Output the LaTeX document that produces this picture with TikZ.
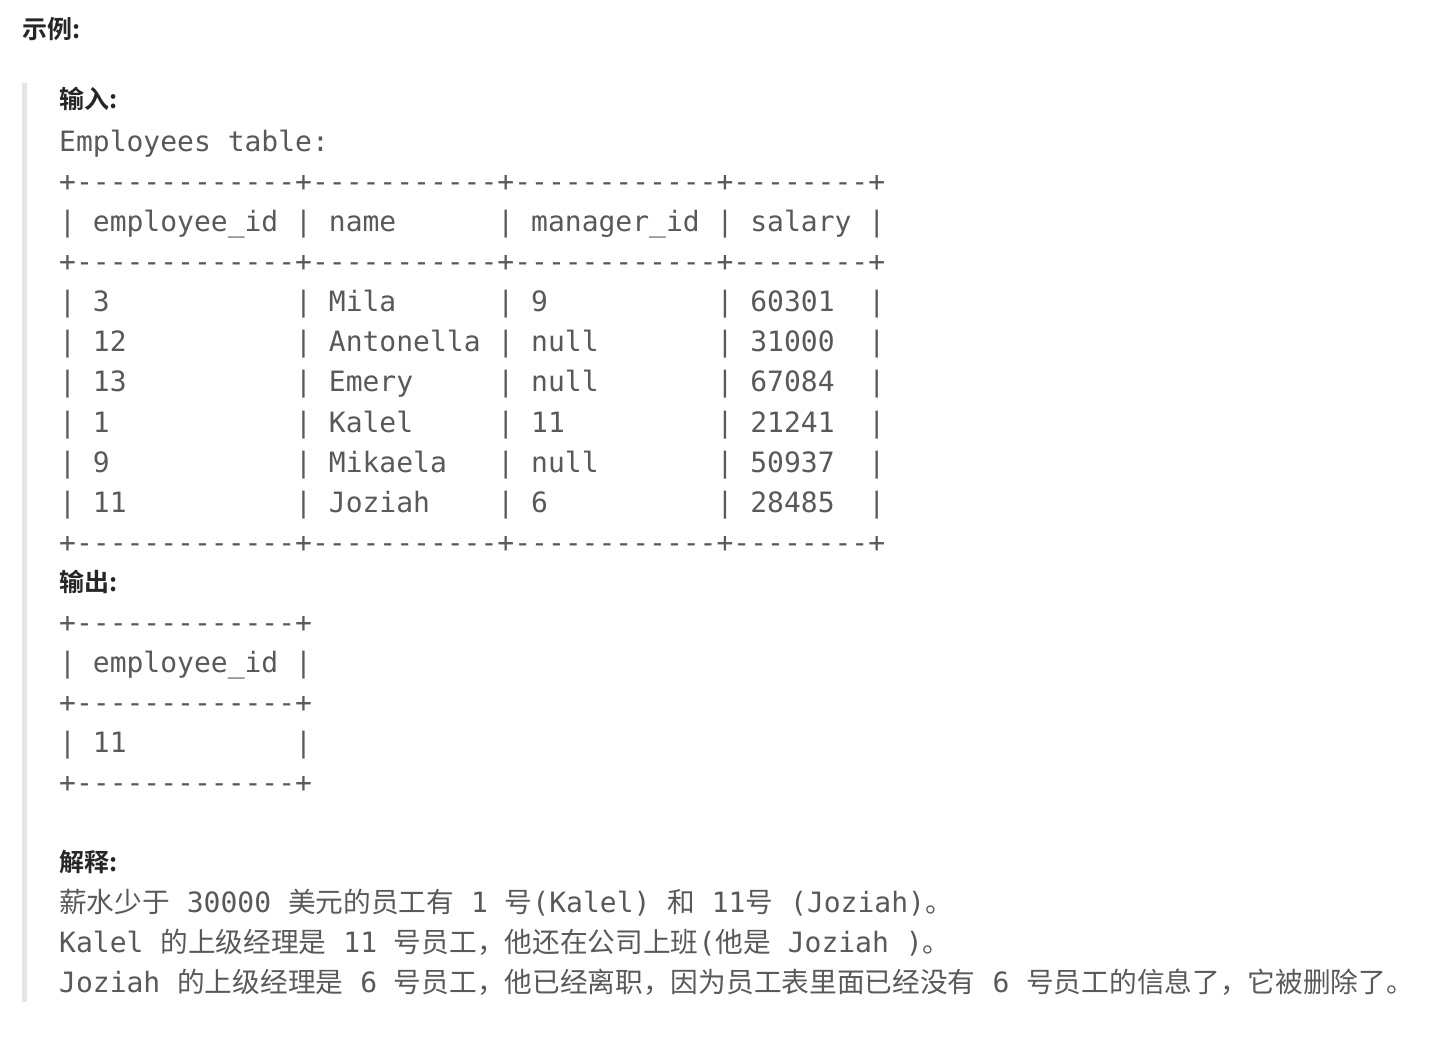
\documentclass[tikz,border=0pt]{standalone}
\usepackage{fontspec}
\setmonofont{DejaVu Sans Mono}
\newfontfamily\cjk[BoldFont=Noto Sans CJK SC Bold]{Noto Sans CJK SC}
\newcommand\Cn[1]{{\cjk\fontsize{27.7}{28}\selectfont #1}}
\definecolor{txt}{HTML}{595959}
\definecolor{hd}{HTML}{262626}
\definecolor{barc}{HTML}{E6E6E6}
\tikzset{
  ln/.style={anchor=base west,inner sep=0pt,text=txt,font=\fontsize{28}{28}\ttfamily},
  hdg/.style={anchor=base west,inner sep=0pt,text=hd,font=\cjk\bfseries\fontsize{25}{25}\selectfont}
}
\begin{document}
\begin{tikzpicture}[x=1pt,y=-1pt]
\useasboundingbox (0,0) rectangle (1454,1040);
\fill[barc] (22,83) rectangle (27,1002);
\node[hdg] (h0) at (22,39) {示例:};
\node[hdg] (h1) at (59,109) {输入:};
\node[ln] (l1) at (59,152) {Employees~table:};
\node[ln] (l2) at (59,192) {+-------------+-----------+------------+--------+};
\node[ln] (l3) at (59,232) {|~employee\_id~|~name~~~~~~|~manager\_id~|~salary~|};
\node[ln] (l4) at (59,272) {+-------------+-----------+------------+--------+};
\node[ln] (l5) at (59,312) {|~3~~~~~~~~~~~|~Mila~~~~~~|~9~~~~~~~~~~|~60301~~|};
\node[ln] (l6) at (59,352) {|~12~~~~~~~~~~|~Antonella~|~null~~~~~~~|~31000~~|};
\node[ln] (l7) at (59,392) {|~13~~~~~~~~~~|~Emery~~~~~|~null~~~~~~~|~67084~~|};
\node[ln] (l8) at (59,432) {|~1~~~~~~~~~~~|~Kalel~~~~~|~11~~~~~~~~~|~21241~~|};
\node[ln] (l9) at (59,472) {|~9~~~~~~~~~~~|~Mikaela~~~|~null~~~~~~~|~50937~~|};
\node[ln] (l10) at (59,512) {|~11~~~~~~~~~~|~Joziah~~~~|~6~~~~~~~~~~|~28485~~|};
\node[ln] (l11) at (59,552) {+-------------+-----------+------------+--------+};
\node[hdg] (h2) at (59,591) {输出:};
\node[ln] (o1) at (59,632) {+-------------+};
\node[ln] (o2) at (59,672) {|~employee\_id~|};
\node[ln] (o3) at (59,712) {+-------------+};
\node[ln] (o4) at (59,752) {|~11~~~~~~~~~~|};
\node[ln] (o5) at (59,792) {+-------------+};
\node[hdg] (h3) at (59,871) {解释:};
\node[ln] (e1) at (59,912) {\Cn{薪水少于}~30000~\Cn{美元的员工有}~1~\Cn{号}(Kalel)~\Cn{和}~11\Cn{号}~(Joziah)\Cn{。}};
\node[ln] (e2) at (59,952) {Kalel~\Cn{的上级经理是}~11~\Cn{号员工，他还在公司上班}(\Cn{他是}~Joziah~)\Cn{。}};
\node[ln] (e3) at (59,992) {Joziah~\Cn{的上级经理是}~6~\Cn{号员工，他已经离职，因为员工表里面已经没有}~6~\Cn{号员工的信息了，它被删除了。}};
\end{tikzpicture}
\end{document}
